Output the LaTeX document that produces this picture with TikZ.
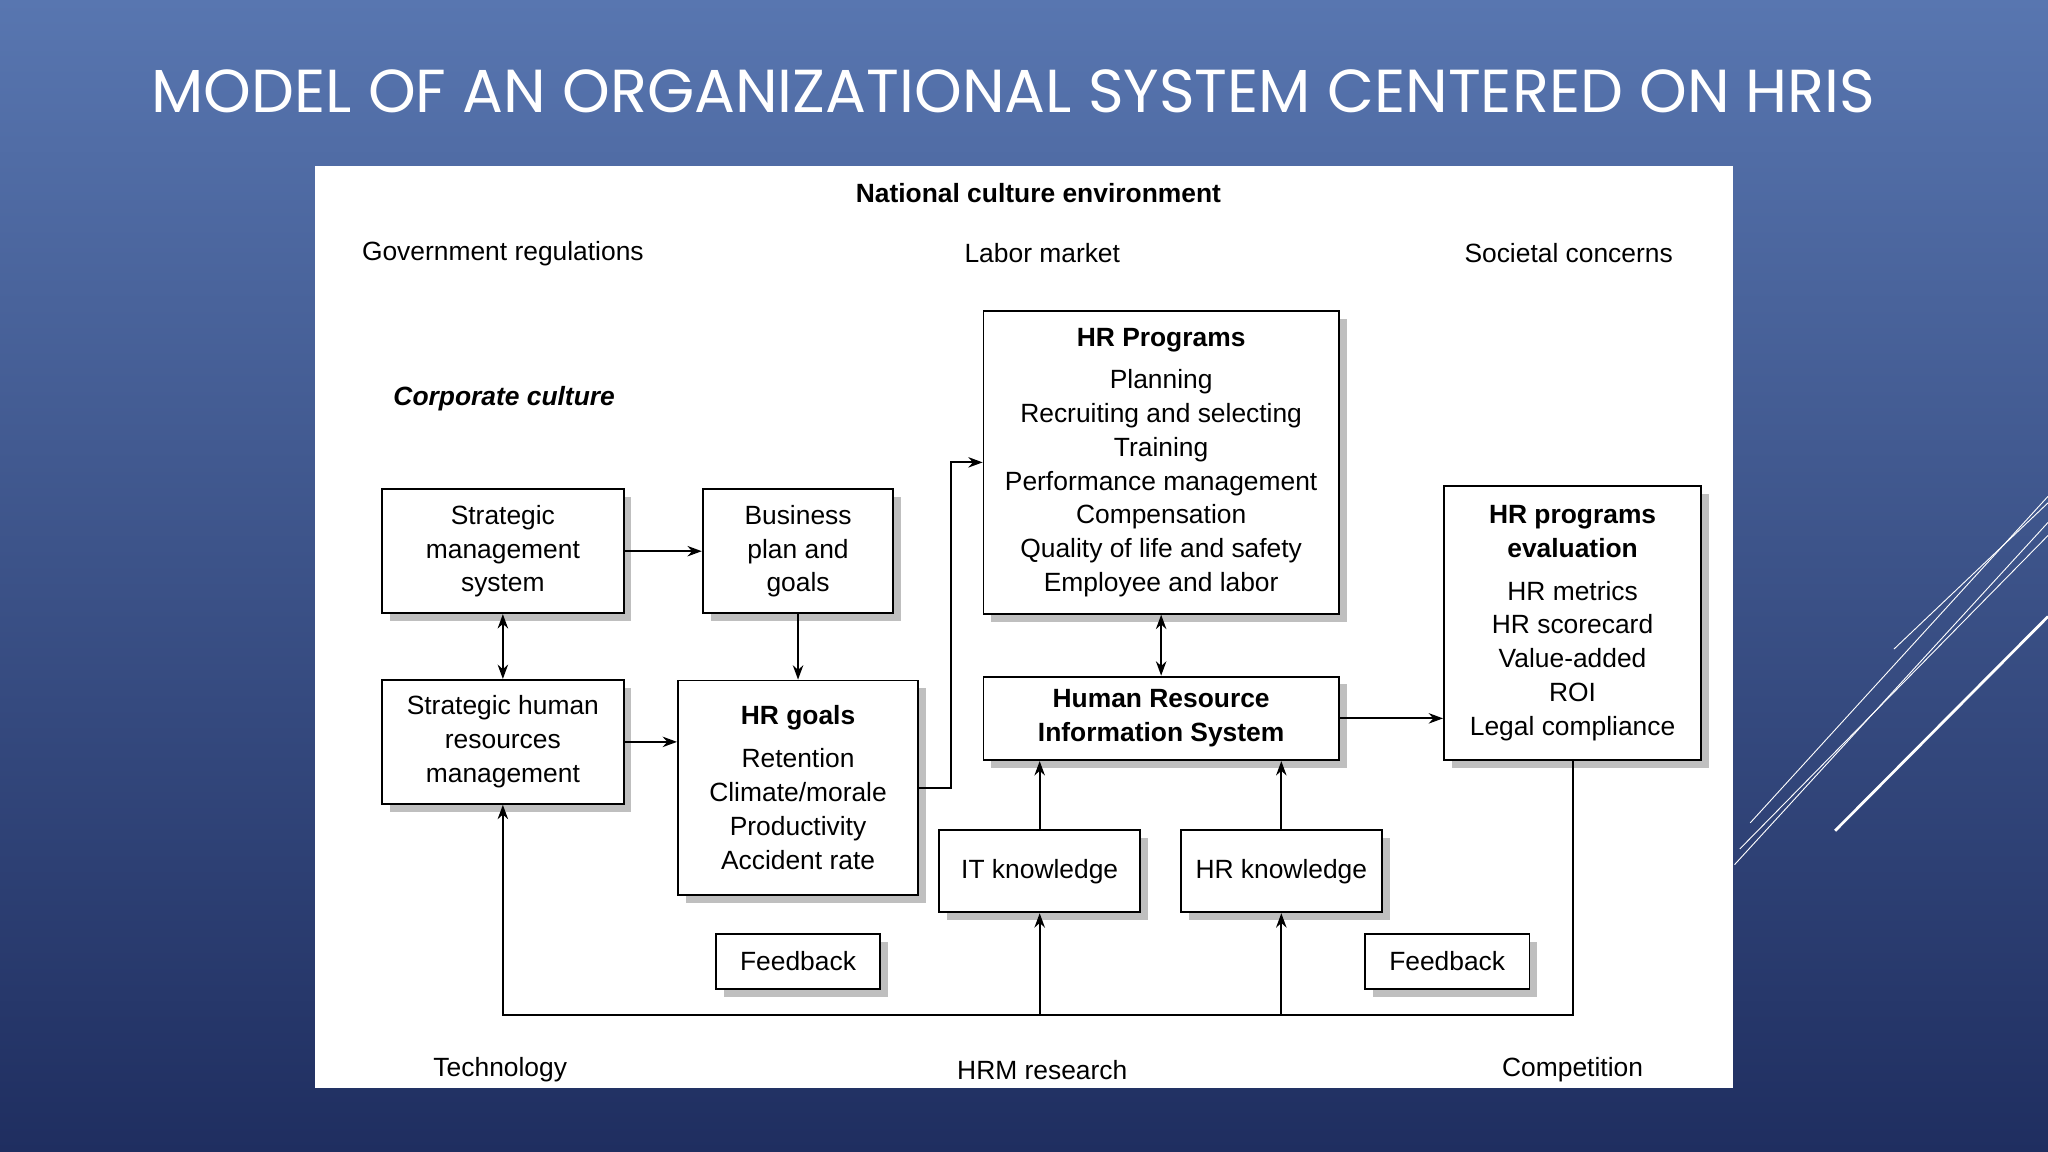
\documentclass[tikz,border=0pt]{standalone}
\usepackage{fontspec}
\setmainfont{Liberation Sans}
\newfontfamily\titlefont{Poppins}
\usetikzlibrary{arrows.meta,shadows}

\begin{document}
\begin{tikzpicture}[x=0.02cm,y=-0.02cm,>={Stealth[length=2.2mm,width=1.6mm]},
  every node/.style={font=\fontsize{11.5}{14.7}\selectfont},
  box/.style={draw,thick,fill=white,align=center,inner sep=2pt,
    drop shadow={shadow xshift=1.2mm,shadow yshift=-1.2mm,fill=black!25,opacity=1}},
  line/.style={thick}]
% background
\useasboundingbox (0,0) rectangle (1568,882);
\shade[top color=blue!35!black!35!cyan!20!blue!60!white!70!black, bottom color={rgb,255:red,30;green,45;blue,95}]
  (0,0) rectangle (1568,882);
\shade[top color={rgb,255:red,88;green,118;blue,176}, bottom color={rgb,255:red,31;green,46;blue,96}]
  (0,0) rectangle (1568,882);
\node[text=white] (title) at (776,70)
  {\resizebox{26.4cm}{!}{\titlefont MODEL OF AN ORGANIZATIONAL SYSTEM CENTERED ON HRIS}};
% decorative lines
\draw[white,thin] (1328,662) -- (1568,400);
\draw[white,thin] (1332,650) -- (1568,410);
\draw[white,thin] (1340,630) -- (1568,380);
\draw[white,line width=1.2pt] (1405,636) -- (1568,472);
\draw[white,thin] (1450,497) -- (1568,385);
% panel
\fill[white] (241,127) rectangle (1327,833);
% environment labels
\node[font=\fontsize{11.5}{14}\selectfont\bfseries] (nce) at (795,148) {National culture environment};
\node (gov) at (385,194) {Government regulations};
\node (lab) at (798,194) {Labor market};
\node (soc) at (1201,194) {Societal concerns};
\node[font=\fontsize{11.5}{14}\selectfont\bfseries\itshape] (cc) at (386,305) {Corporate culture};
\node (tech) at (383,819) {Technology};
\node (hrmr) at (798,819) {HRM research};
\node (comp) at (1204,819) {Competition};
% boxes
\node[box,minimum width=3.7cm,minimum height=1.9cm] (sms) at (385,422) {Strategic\\management\\system};
\node[box,minimum width=2.92cm,minimum height=1.9cm] (bpg) at (611,422) {Business\\plan and\\goals};
\node[box,minimum width=3.7cm,minimum height=1.9cm] (shrm) at (385,568) {Strategic human\\resources\\management};
\node[box,minimum width=3.68cm,minimum height=3.28cm] (hrg) at (611,603) {\textbf{HR goals}\\[4pt]Retention\\Climate/morale\\Productivity\\Accident rate};
\node[box,minimum width=5.44cm,minimum height=4.64cm] (hrp) at (889,354) {\textbf{HR Programs}\\[4pt]Planning\\Recruiting and selecting\\Training\\Performance management\\Compensation\\Quality of life and safety\\Employee and labor};
\node[box,minimum width=5.44cm,minimum height=1.28cm] (hris) at (889,550) {\textbf{Human Resource}\\\textbf{Information System}};
\node[box,minimum width=3.94cm,minimum height=4.2cm] (eval) at (1204,477) {\textbf{HR programs}\\\textbf{evaluation}\\[4pt]HR metrics\\HR scorecard\\Value-added\\ROI\\Legal compliance};
\node[box,minimum width=3.08cm,minimum height=1.26cm] (itk) at (796,667) {IT knowledge};
\node[box,minimum width=3.08cm,minimum height=1.26cm] (hrk) at (981,667) {HR knowledge};
\node[box,minimum width=2.52cm,minimum height=0.84cm] (fb1) at (611,736) {Feedback};
\node[box,minimum width=2.52cm,minimum height=0.84cm] (fb2) at (1108,736) {Feedback};
% connectors
\coordinate (bend) at (728,603);
\coordinate (loopR) at (1204,777);
\coordinate (loopL) at (385,777);
\coordinate (loopIT) at (796,777);
\coordinate (loopHR) at (981,777);
\draw[line,->] (sms) -- (bpg);
\draw[line,<->] (sms) -- (shrm);
\draw[line,->] (bpg) -- (hrg);
\draw[line,->] (shrm.east) -- (shrm.east -| hrg.west);
\draw[line,->] (hrg.east |- bend) -- (bend) |- (hrp.west);
\draw[line,<->] (hrp) -- (hris);
\draw[line,->] (hris.east) -- (hris.east -| eval.west);
\draw[line,->] (itk) -- (itk |- hris.south);
\draw[line,->] (hrk) -- (hrk |- hris.south);
\draw[line,->] (eval.south) -- (loopR) -- (loopL) -- (shrm.south);
\draw[line,->] (loopIT) -- (itk.south);
\draw[line,->] (loopHR) -- (hrk.south);
\end{tikzpicture}
\end{document}
